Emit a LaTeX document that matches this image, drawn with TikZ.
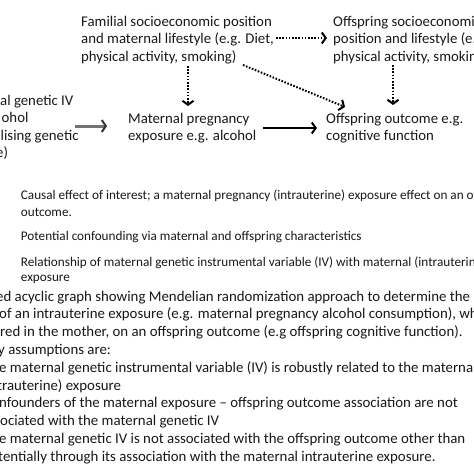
\documentclass[tikz,border=0pt]{standalone}
\usepackage{fontspec}
\setmainfont{Carlito}
\usetikzlibrary{arrows.meta}
\begin{document}
\begin{tikzpicture}[x=1pt,y=-1pt,
  txt/.style={inner sep=0pt,anchor=base west,align=left,text=black!90,
    font=\fontsize{14.8}{17.6}\selectfont},
  legtxt/.style={inner sep=0pt,anchor=base west,align=left,text=black!90,
    font=\fontsize{13.2}{17}\selectfont},
  dotarrow/.style={line width=2pt,dash pattern=on 1.6pt off 1.6pt,
    -{Straight Barb[length=4pt,width=11pt,line width=2pt]}},
  solidarrow/.style={line width=1.6pt,
    -{Straight Barb[length=4pt,width=11pt,line width=2pt]}},
  grayarrow/.style={line width=3pt,draw=black!55,
    -{Straight Barb[length=4pt,width=12pt,line width=2pt,color=black!80]}}]
\useasboundingbox (0,0) rectangle (474,474);
\fill[white] (0,0) rectangle (474,474);
\clip (0,0) rectangle (474,474);

% base anchor of a multi-line node is the baseline of its last line
\node[txt] (fam) at (81,61.2) {Familial socioeconomic position\\and maternal lifestyle (e.g. Diet,\\physical activity, smoking)};
\node[txt] (off) at (333,61.2) {Offspring socioeconomic\\position and lifestyle (e.g. Diet,\\physical activity, smoking)};
\node[txt] (mat) at (128,140.6) {Maternal pregnancy\\exposure e.g. alcohol};
\node[txt] (out) at (326,140.6) {Offspring outcome e.g.\\cognitive function};
\node[txt] (iv) at (0,157.8) {al genetic IV\\\kern1.5pt ohol\\\kern0.5pt lising genetic\\\kern-4pt e)};

\coordinate (famE) at (276,38);
\coordinate (offW) at (327,38);
\coordinate (famS) at (188,66);
\coordinate (matN) at (188,106);
\coordinate (famSE) at (243,65);
\coordinate (outNW) at (345,107);
\coordinate (offS) at (393,65);
\coordinate (outN) at (393,105);
\coordinate (matE) at (263,128);
\coordinate (outW) at (317,128);
\coordinate (ivE) at (75,126);
\coordinate (matW) at (107,126);

\draw[dotarrow] (famE) -- (offW);
\draw[dotarrow] (famS) -- (matN);
\draw[dotarrow] (famSE) -- (outNW);
\draw[dotarrow] (offS) -- (outN);
\draw[solidarrow] (matE) -- (outW);
\draw[grayarrow] (ivE) -- (matW);

\node[legtxt] (leg1) at (20.7,216) {Causal effect of interest; a maternal pregnancy (intrauterine) exposure effect on an offspring\\outcome.};
\node[legtxt] (leg2) at (20.7,240) {Potential confounding via maternal and offspring characteristics};
\node[legtxt,font=\fontsize{13.2}{15}\selectfont] (leg3) at (20.7,281) {Relationship of maternal genetic instrumental variable (IV) with maternal (intrauterine)\\exposure};

\node[txt,font=\fontsize{14.85}{17.8}\selectfont] (cap) at (0,461.2) {\kern-4pt ed acyclic graph showing Mendelian randomization approach to determine the\\
\kern-1pt of an intrauterine exposure (e.g. maternal pregnancy alcohol consumption), which is\\
red in the mother, on an offspring outcome (e.g offspring cognitive function).\\
\kern-2pt y assumptions are:\\
\kern-1pt e maternal genetic instrumental variable (IV) is robustly related to the maternal\\
\kern-3pt trauterine) exposure\\
\kern-1pt nfounders of the maternal exposure – offspring outcome association are not\\
ociated with the maternal genetic IV\\
\kern-1pt e maternal genetic IV is not associated with the offspring outcome other than\\
\kern-2pt tentially through its association with the maternal intrauterine exposure.};
\end{tikzpicture}
\end{document}
